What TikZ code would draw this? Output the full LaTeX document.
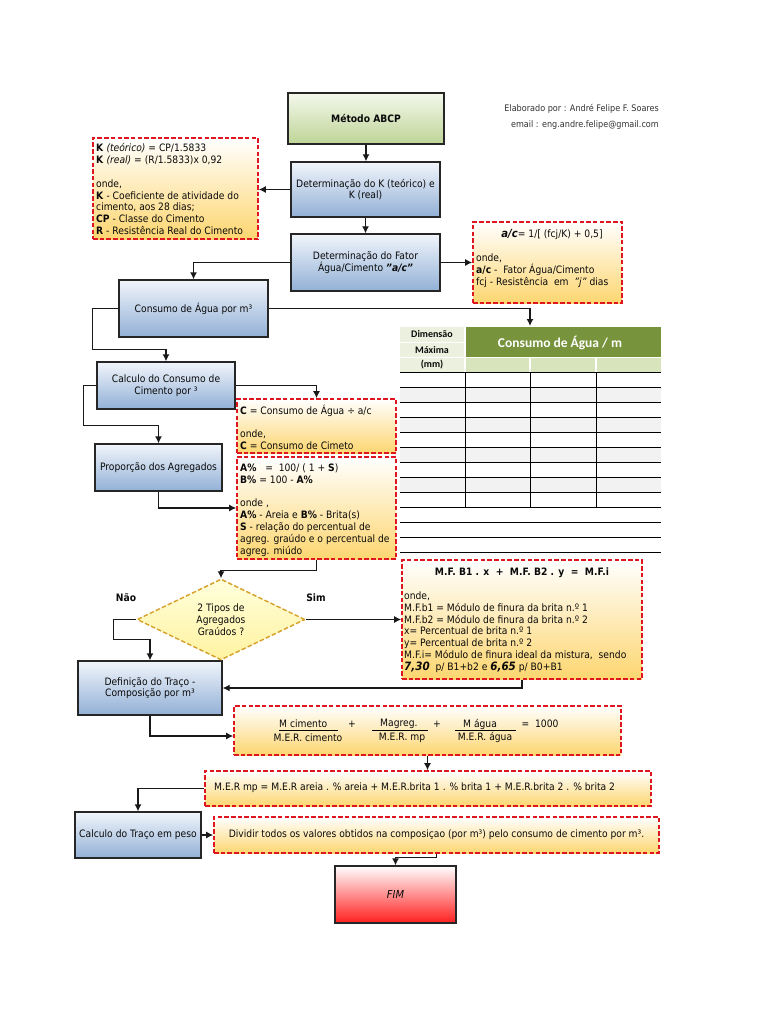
\documentclass[tikz,border=0pt]{standalone}
\usepackage{fontspec}
\setmainfont{DejaVu Sans}[FakeStretch=0.9]
\newfontfamily\tabfont{Carlito}
\usetikzlibrary{arrows.meta,shapes.geometric,calc,shadings}
\definecolor{bluetop}{RGB}{241,245,251}
\definecolor{bluebot}{RGB}{146,176,214}
\definecolor{greentop}{RGB}{244,248,236}
\definecolor{greenbot}{RGB}{190,212,150}
\definecolor{orgbot}{RGB}{253,214,112}
\definecolor{dred}{RGB}{222,22,32}
\definecolor{dgold}{RGB}{214,160,40}
\definecolor{yeltop}{RGB}{255,255,220}
\definecolor{yelbot}{RGB}{255,242,160}
\definecolor{fimbot}{RGB}{255,30,30}
\definecolor{olivehd}{RGB}{119,147,60}
\definecolor{lgreen}{RGB}{215,228,188}
\definecolor{llgreen}{RGB}{235,241,222}
\definecolor{rowgray}{RGB}{242,242,242}
\definecolor{txtc}{RGB}{10,10,10}
\newcommand\dgfont{\fontsize{10.2}{11.8}\selectfont}
\begin{document}
\begin{tikzpicture}[x=1pt,y=-1pt,
  every node/.style={text=txtc},
  solidbox/.style={draw=black!85, line width=1.3pt, align=center, font=\dgfont, inner sep=2pt},
  bluebox/.style={solidbox, top color=bluetop, bottom color=bluebot},
  greenbox/.style={solidbox, top color=greentop, bottom color=greenbot},
  dashbox/.style={draw=dred, line width=1.6pt, dash pattern=on 4.5pt off 2.2pt, top color=white, bottom color=orgbot, inner sep=0},
  txtblock/.style={anchor=north west, inner sep=0, align=left, font=\dgfont},
  plain/.style={inner sep=0, font=\dgfont},
  tabhdr/.style={inner sep=0, font=\tabfont\bfseries\fontsize{10}{11}\selectfont},
  conn/.style={line width=1.3pt, draw=black!90, -{Latex[length=7pt,width=7pt]}},
  tline/.style={line width=0.9pt, draw=black}
]
\fill[white] (0,0) rectangle (768,1024);
\useasboundingbox (0,0) rectangle (768,1024);

% ---------- main solid boxes ----------
\node[greenbox, minimum width=156, minimum height=51] (abcp) at (366,118.5) {\textbf{Método ABCP}};
\node[anchor=east, align=right, inner sep=0, font=\fontsize{9}{16}\selectfont, text=black!80] (autor) at (659,117) {Elaborado por : André Felipe F. Soares\\email : eng.andre.felipe@gmail.com};
\node[bluebox, minimum width=149, minimum height=55] (detk) at (365.5,189.5) {Determinação do K (teórico) e\\K (real)};
\node[bluebox, minimum width=149, minimum height=57] (detf) at (365.5,262.5) {Determinação do Fator\\Água/Cimento \textbf{\textit{”a/c”}}};
\node[bluebox, minimum width=149, minimum height=57] (consumo) at (193.5,308.5) {Consumo de Água por m³};
\node[bluebox, minimum width=138, minimum height=47] (calc) at (166,385.5) {Calculo do Consumo de\\Cimento por ³};
\node[bluebox, minimum width=127, minimum height=47] (prop) at (158.5,467.5) {Proporção dos Agregados};
\node[bluebox, minimum width=144, minimum height=54] (defin) at (150,688) {Definição do Traço -\\Composição por m³};
\node[bluebox, minimum width=126, minimum height=46] (calctr) at (138,835) {Calculo do Traço em peso};
\node[solidbox, top color=white, bottom color=fimbot, minimum width=121, minimum height=57, font=\fontsize{11}{12}\selectfont] (fim) at (395.5,894.5) {\textit{FIM}};

% ---------- dashed boxes ----------
\node[dashbox, minimum width=165, minimum height=101] (kbox) at (175.5,188.5) {};
\node[txtblock] (ktxt) at (96,143.5) {\textbf{K} \textit{(teórico)} = CP/1.5833\\
\textbf{K} \textit{(real)} = (R/1.5833)x 0,92\\[11.8pt]
onde,\\
\textbf{K} - Coeficiente de atividade do\\
cimento, aos 28 dias;\\
\textbf{CP} - Classe do Cimento\\
\textbf{R} - Resistência Real do Cimento};

\node[dashbox, minimum width=149, minimum height=81] (acbox) at (547.5,262.5) {};
\node[plain] (achead) at (552,234) {{\fontsize{11.2}{11.8}\selectfont\textbf{\textit{a/c}}}= 1/[ (fcj/K) + 0,5]};
\node[txtblock] (actxt) at (476,253.5) {onde,\\
\textbf{a/c} -~ Fator Água/Cimento\\
fcj - Resistência~ em~ \textit{”j”} dias};

\node[dashbox, minimum width=159, minimum height=54] (cbox) at (316.5,426) {};
\node[txtblock] (ctxt) at (240,404.5) {\textbf{C} = Consumo de Água ÷ a/c\\[11.8pt]
onde,\\
\textbf{C} = Consumo de Cimeto};

\node[dashbox, minimum width=159, minimum height=102] (abox) at (316.5,508) {};
\node[txtblock] (atxt) at (240,463.5) {\textbf{A\%}~~ = ~100/ ( 1 + \textbf{S})\\
\textbf{B\%} = 100 - \textbf{A\%}\\[11.8pt]
onde ,\\
\textbf{A\%} - Areia e \textbf{B\%} - Brita(s)\\
\textbf{S} - relação do percentual de\\
agreg. graúdo e o percentual de\\
agreg. miúdo};

\node[dashbox, minimum width=240, minimum height=119] (mfbox) at (522,619.5) {};
\node[plain] (mfhead) at (522,573) {\textbf{M.F. B1 . x ~+~ M.F. B2 . y ~=~ M.F.i}};
\node[txtblock] (mftxt) at (404,591.5) {onde,\\
M.F.b1 = Módulo de finura da brita n.º 1\\
M.F.b2 = Módulo de finura da brita n.º 2\\
x= Percentual de brita n.º 1\\
y= Percentual de brita n.º 2\\
M.F.i= Módulo de finura ideal da mistura,~ sendo\\
{\fontsize{11.5}{11.8}\selectfont\textbf{\textit{7,30}}}~ p/ B1+b2 e {\fontsize{11.5}{11.8}\selectfont\textbf{\textit{6,65}}} p/ B0+B1};

\node[dashbox, minimum width=387, minimum height=49] (formbox) at (427.5,730.5) {};
\node[plain, anchor=west] (num1) at (279,724) {M cimento};
\draw[line width=0.6pt] (279,730.5) -- (338,730.5);
\node[plain] (den1) at (308,737.5) {M.E.R. cimento};
\node[plain] (plus1) at (352,724) {+};
\node[plain, anchor=west] (num2) at (380,724) {Magreg.};
\draw[line width=0.6pt] (372,730.5) -- (428,730.5);
\node[plain] (den2) at (402,737.5) {M.E.R. mp};
\node[plain] (plus2) at (437,724) {+};
\node[plain, anchor=west] (num3) at (463,724) {M água};
\draw[line width=0.6pt] (455,730.5) -- (516,730.5);
\node[plain] (den3) at (485,737.5) {M.E.R. água};
\node[plain] (eq) at (540,724) {=~ 1000};

\node[dashbox, minimum width=446, minimum height=35] (merbox) at (428,788.5) {};
\node[plain, anchor=west] (mertxt) at (214,788) {M.E.R mp = M.E.R areia . \% areia + M.E.R.brita 1 . \% brita 1 + M.E.R.brita 2 . \% brita 2};

\node[dashbox, minimum width=445, minimum height=36] (divbox) at (436.5,835) {};
\node[plain] (divtxt) at (436.5,835) {Dividir todos os valores obtidos na composiçao (por m³) pelo consumo de cimento por m³.};

% ---------- decision ----------
\node[draw=dgold, line width=1.4pt, dash pattern=on 4.5pt off 2.2pt, shape=diamond, aspect=2,
  top color=yeltop, bottom color=yelbot, minimum width=168, minimum height=81, inner sep=0,
  align=center, font=\dgfont] (dia) at (221,619.5) {2 Tipos de\\Agregados\\Graúdos ?};
\node[plain, font=\dgfont\bfseries] (nao) at (126,598) {Não};
\node[plain, font=\dgfont\bfseries] (sim) at (316,598) {Sim};

% ---------- table ----------
\fill[llgreen] (400,327) rectangle (464,341.5);
\fill[llgreen] (400,343) rectangle (464,356.5);
\fill[llgreen] (400,358) rectangle (464,371.5);
\node[tabhdr] (tdim) at (432,334.5) {Dimensão};
\node[tabhdr] (tmax) at (432,350) {Máxima};
\node[tabhdr] (tmm) at (432,365) {(mm)};
\fill[olivehd] (466,327) rectangle (661,357);
\node[inner sep=0, text=white, font=\tabfont\bfseries\fontsize{13.5}{14}\selectfont] (thead) at (560,343) {Consumo de Água / m};
\fill[lgreen] (466,358) rectangle (529,371.5);
\fill[lgreen] (531,358) rectangle (595,371.5);
\fill[lgreen] (597,358) rectangle (661,371.5);
\foreach \yy in {387,417,447,477} \fill[rowgray] (400,\yy) rectangle (661,\yy+15);
\foreach \yy in {372,387,...,552} \draw[tline] (400,\yy) -- (661,\yy);
\foreach \xx in {465.5,530,596} \draw[tline] (\xx,372) -- (\xx,507);
\coordinate (tabtop) at (530,326);

% ---------- connectors ----------
\draw[conn] (abcp.south) -- (abcp.south |- detk.north);
\draw[conn] (detk.west) -- (detk.west -| kbox.east);
\draw[conn] (detk.south) -- (detk.south |- detf.north);
\draw[conn] (detf.east) -- (detf.east -| acbox.west);
\draw[conn] (detf.west) -| (consumo.north);
\draw[conn] (consumo.east) -| (tabtop);
\draw[conn] (consumo.west) -- ++(-26,0) |- ($(calc.north)+(0,-12)$) -- (calc.north);
\draw[conn] (calc.east) -| (cbox.north);
\draw[conn] (calc.west) -- ++(-13,0) |- ($(prop.north)+(0,-18)$) -- (prop.north);
\draw[conn] (prop.south) |- (abox.west);
\draw[conn] (abox.south) -- ++(0,11) -| (dia.north);
\draw[conn] (dia.east) -- (mfbox.west);
\draw[conn] (dia.west) -- ++(-23,0) |- ($(defin.north)+(0,-21)$) -- (defin.north);
\draw[conn] (mfbox.south) |- (defin.east);
\draw[conn] (defin.south) |- ($(formbox.west)+(0,5.5)$);
\draw[conn] (formbox.south) -- (formbox.south |- merbox.north);
\draw[conn] (merbox.west) -| (calctr.north);
\draw[conn] (calctr.east) -- (divbox.west);
\draw[conn] (divbox.south) -- ++(0,4) -| (fim.north);
\end{tikzpicture}
\end{document}
